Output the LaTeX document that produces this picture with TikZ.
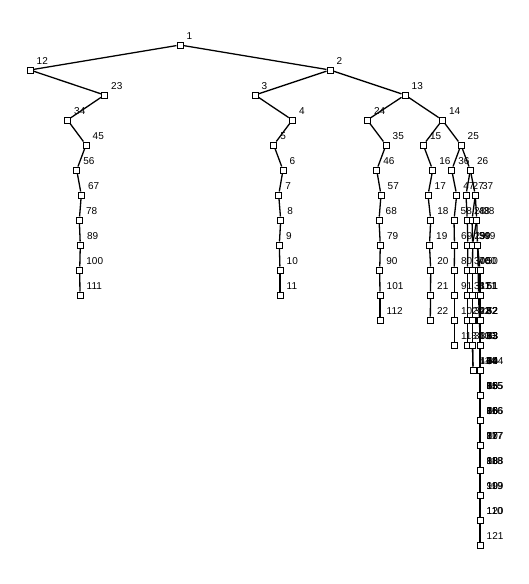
\documentclass[tikz,border=0pt]{standalone}
\usepackage{fontspec}
\setmainfont{Liberation Sans}
\usetikzlibrary{backgrounds}
\tikzset{
  vtx/.style={draw,fill=white,line width=1pt,inner sep=0pt,minimum size=6pt},
  lbl/.style={anchor=base west,inner sep=0pt,font=\fontsize{10}{12}\selectfont},
  lnk/.style={line width=1.3pt},
}
\begin{document}
\begin{tikzpicture}[x=1pt,y=-1pt]
  \useasboundingbox (0,0) rectangle (528,584);
  \foreach \n/\x/\d in {1/180/0,
      12/30/1, 2/330/1,
      23/104.5/2, 3/255/2, 13/405/2,
      34/67.5/3, 4/292.3/3, 24/367.3/3, 14/442.3/3,
      45/86/4, 5/273.7/4, 35/386/4, 15/423.3/4, 25/461/4,
      56/76.7/5, 6/283/5, 46/376.7/5, 16/432.7/5, 36/451.7/5, 26/470.3/5,
      67/81.3/6, 7/278.7/6, 57/381/6, 17/428/6, 47/456.7/6, 27/466/6, 37/475.3/6,
      78/79.3/7, 8/280.7/7, 68/379/7, 18/430.7/7, 58/454/7, 28/467.3/7, 48/472/7, 38/476.7/7,
      89/80.3/8, 9/279.3/8, 79/380.3/8, 19/429.5/8, 69/454.5/8, 29/467.8/8, 59/472.7/8, 39/472.5/8, 49/477.5/8,
      100/79.7/9, 10/280/9, 90/379.7/9, 20/430.7/9, 80/454.3/9, 30/467.5/9, 70/472.5/9, 40/472.5/9, 60/478.3/9, 50/480/9,
      111/80/10, 11/280/10, 101/380/10, 21/430.5/10, 91/454.3/10, 31/467.5/10, 81/472.5/10, 41/472.5/10, 71/478.5/10, 51/480/10, 61/480/10,
      112/380/11, 22/430.3/11, 102/454.3/11, 32/467.5/11, 92/472.5/11, 42/472.5/11, 82/479.5/11, 52/480/11, 72/480/11, 62/480/11,
      113/454.3/12, 33/467.5/12, 103/472.5/12, 43/472.5/12, 93/480/12, 53/480/12, 83/480/12, 63/480/12, 73/480/12,
      114/473/13, 44/473/13, 104/480/13, 54/480/13, 94/480/13, 64/480/13, 84/480/13, 74/480/13,
      115/480/14, 55/480/14, 105/480/14, 65/480/14, 95/480/14, 75/480/14, 85/480/14,
      116/480/15, 66/480/15, 106/480/15, 76/480/15, 96/480/15, 86/480/15,
      117/480/16, 77/480/16, 107/480/16, 87/480/16, 97/480/16,
      118/480/17, 88/480/17, 108/480/17, 98/480/17,
      119/480/18, 99/480/18, 109/480/18,
      120/480/19, 110/480/19,
      121/480/20} {
    \node[vtx] (v\n) at (\x,45+25*\d) {};
    \node[lbl] (t\n) at (\x+6.5,39+25*\d) {\n};
  }
  \begin{scope}[on background layer]
    \foreach \i in {0,...,10} \foreach \j in {0,...,10} {
      \pgfmathtruncatemacro\n{11*\i+\j+1}
      \pgfmathtruncatemacro\p{\j>\i ? \n-1 : \n-11}
      \ifnum\n>1 \draw[lnk] (v\p) -- (v\n); \fi
    }
  \end{scope}
\end{tikzpicture}
\end{document}
